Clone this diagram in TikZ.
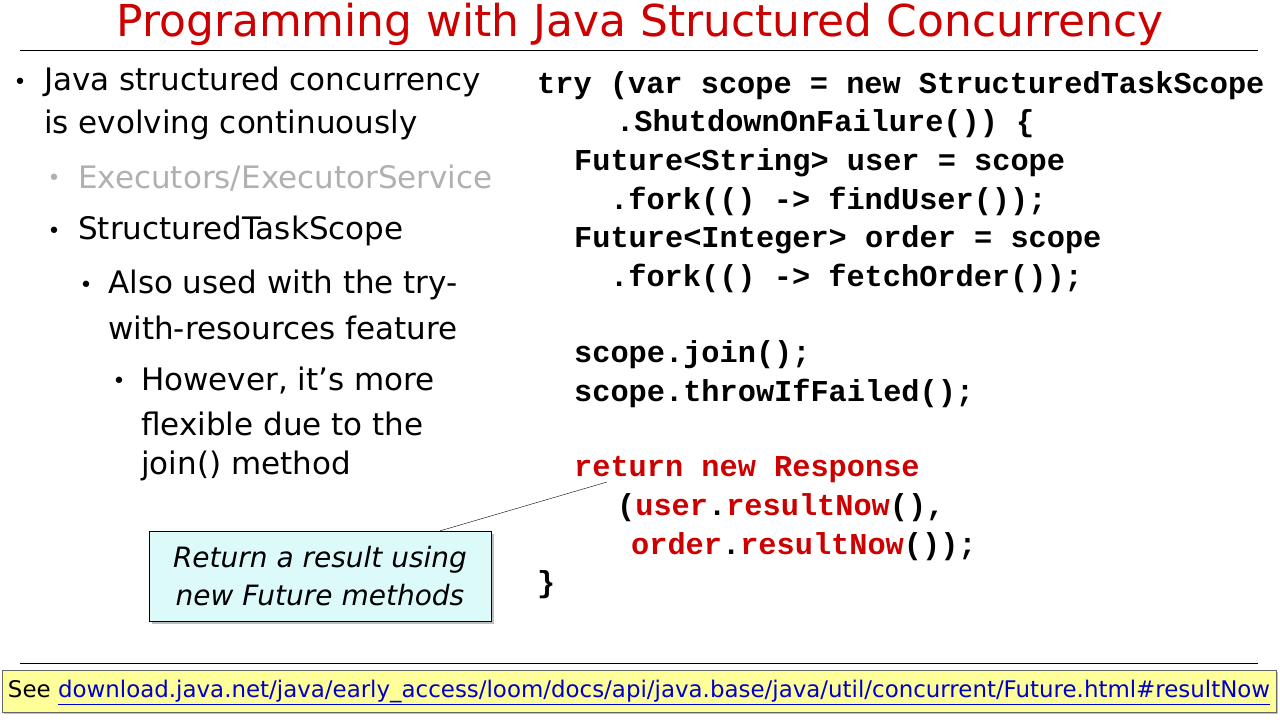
\documentclass[tikz,border=0pt]{standalone}
\usepackage{fontspec}
\setmainfont{DejaVu Sans}
\setmonofont{Liberation Mono}
\usetikzlibrary{shadows}
\definecolor{titlered}{HTML}{CC0000}
\definecolor{codered}{HTML}{CC0000}
\definecolor{grayt}{HTML}{B0B0B0}
\definecolor{cbox}{HTML}{DDFAFA}
\definecolor{bar}{HTML}{FFFF99}
\definecolor{linkblue}{HTML}{0000CC}
\begin{document}
\begin{tikzpicture}[x=1pt,y=-1pt,
  code/.style={anchor=west,inner sep=0pt,font=\fontsize{30.3}{30}\selectfont\ttfamily\bfseries},
  txt/.style={anchor=west,inner sep=0pt,font=\fontsize{31}{31}\selectfont},
  bul/.style={anchor=center,inner sep=0pt,font=\fontsize{22}{22}\selectfont}]
\useasboundingbox (0,0) rectangle (1280,720);
\node[inner sep=0pt,text=titlered] (title) at (640,24) {\resizebox{1047pt}{!}{\fontsize{40}{40}\selectfont Programming with Java Structured Concurrency}};
\draw (20,50) -- (1258,50);
\draw (20,663) -- (1258,663);
% left bullets
\node[bul] (b1) at (20,84) {•};
\node[txt] (t1) at (44,82) {Java structured concurrency};
\node[txt] (t1b) at (44,125) {is evolving continuously};
\node[bul,text=grayt] (b2) at (54,180) {•};
\node[txt,text=grayt] (t2) at (78,178) {Executors/ExecutorService};
\node[bul] (b3) at (54,233) {•};
\node[txt] (t3) at (78,231) {StructuredTaskScope};
\node[bul] (b4) at (86,287) {•};
\node[txt] (t4) at (108,285) {Also used with the try-};
\node[txt] (t4b) at (108,328) {with-resources feature};
\node[bul] (b5) at (119,383) {•};
\node[txt] (t5) at (141,381) {However, it’s more};
\node[txt] (t5b) at (141,424) {flexible due to the};
\node[txt] (t5c) at (141,466) {join() method};
% code
\node[code] (c1) at (537,86) {try (var scope = new StructuredTaskScope};
\node[code] (c2) at (610,124) {\hspace{6pt}.ShutdownOnFailure()) \{};
\node[code] (c3) at (574,163) {Future<String> user = scope};
\node[code] (c4) at (610,201) {.fork(() -> findUser());};
\node[code] (c5) at (574,240) {Future<Integer> order = scope};
\node[code] (c6) at (610,278) {.fork(() -> fetchOrder());};
\node[code] (c7) at (574,355) {scope.join();};
\node[code] (c8) at (574,393) {scope.throwIfFailed();};
\node[code,text=codered] (c9) at (574,470) {return new Response};
\node[code] (c10) at (617,508) {(\textcolor{codered}{user}.\textcolor{codered}{resultNow}(),};
\node[code] (c11) at (631,547) {\textcolor{codered}{order}.\textcolor{codered}{resultNow}());};
\node[code] (c12) at (537,585) {\}};
% callout
\coordinate (tip) at (607,482);
\node[draw=black,fill=cbox,drop shadow={opacity=0.5,shadow xshift=3pt,shadow yshift=-3pt},minimum width=342pt,minimum height=90pt,align=center,inner sep=2pt,
  font=\fontsize{28}{38}\selectfont\itshape] (cb) at (320,576) {Return a result using\\new Future methods};
\draw (cb.north east) ++(-51,0) -- (tip);
% bottom bar
\node[draw=black!60,fill=bar,drop shadow={opacity=0.5,shadow xshift=2pt,shadow yshift=-2pt},minimum width=1274pt,minimum height=42pt,inner sep=0pt] (bar) at (639,691) {};
\node[inner sep=0pt] (bt) at (639,692) {\resizebox{1262pt}{!}{\fontsize{26}{26}\selectfont See \textcolor{linkblue}{\underline{download.java.net/java/early\_access/loom/docs/api/java.base/java/util/concurrent/Future.html\#resultNow}}}};
\end{tikzpicture}
\end{document}
